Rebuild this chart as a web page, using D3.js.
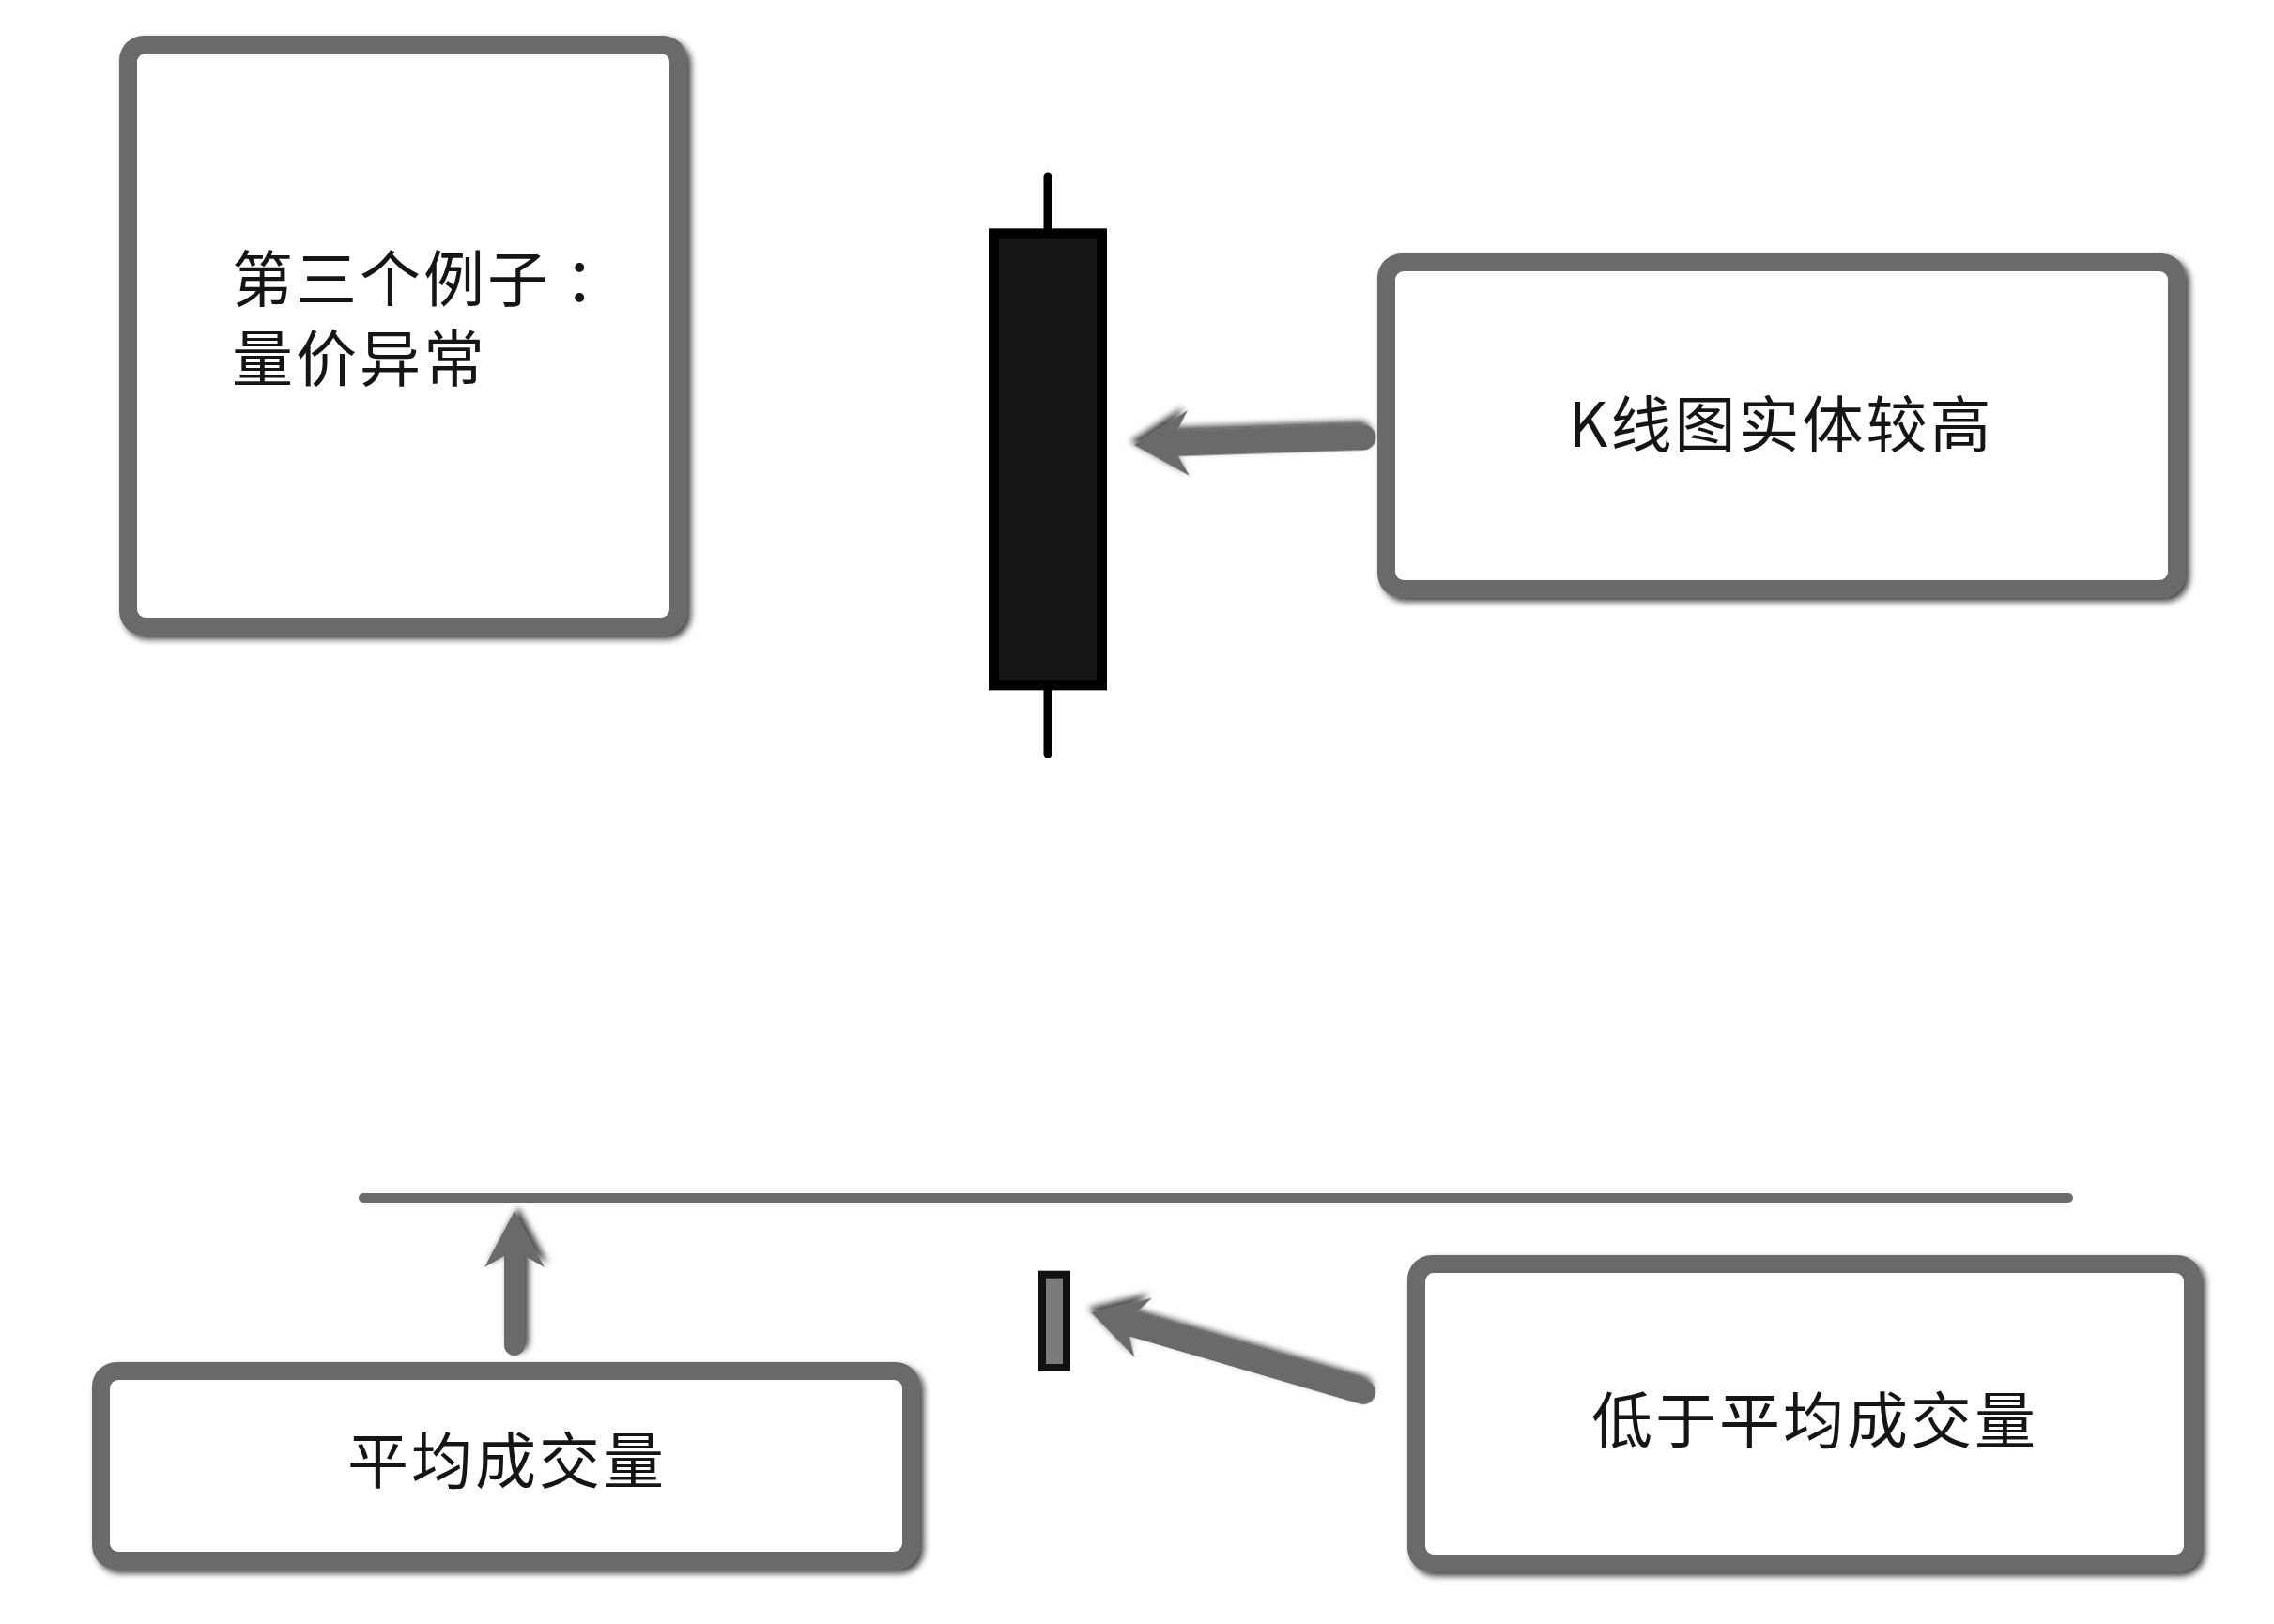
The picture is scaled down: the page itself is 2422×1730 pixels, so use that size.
<!DOCTYPE html>
<html>
<head>
<meta charset="utf-8">
<script src="https://cdn.jsdelivr.net/npm/d3@7"></script>
<style>
  html, body { margin: 0; padding: 0; background: #fff; }
  svg { display: block; }
</style>
</head>
<body>
<div id="chart"></div>
<script>
// 数据
const labels = ["第三个例子：\n量价异常", "K线图实体较高", "平均成交量", "低于平均成交量"];
const candle = { open: 91, high: 100, low: 0, close: 11 };
const volumes = [58];
const avgVolume = 100;

// 版面 (像素)
const W = 2422, H = 1730;
const boxes = [
  { x0: 127, y0: 38, x1: 732, y1: 677, align: "start", tx: 247, ty: [298, 383] },
  { x0: 1467, y0: 270, x1: 2328, y1: 637, align: "middle", tx: 1897, ty: [453] },
  { x0: 98, y0: 1451, x1: 980, y1: 1672, align: "middle", tx: 540, ty: [1557] },
  { x0: 1499, y0: 1337, x1: 2345, y1: 1675, align: "middle", tx: 1933, ty: [1514] }
];
const arrows = [
  { from: [1452, 466], to: [1208, 474], w: 27, hw: 70, hl: 58 },
  { from: [548, 1433], to: [548, 1290], w: 22, hw: 64, hl: 60 },
  { from: [1452, 1483], to: [1162, 1398], w: 26, hw: 66, hl: 58 }
];
const gray = "#6a6a6a";

const svg = d3.select("#chart").append("svg")
  .attr("width", W).attr("height", H);

const defs = svg.append("defs");
defs.append("filter").attr("id", "shadow")
  .attr("x", "-10%").attr("y", "-10%").attr("width", "130%").attr("height", "130%")
  .append("feDropShadow")
  .attr("dx", 4).attr("dy", 4).attr("stdDeviation", 3.5)
  .attr("flood-color", "#000").attr("flood-opacity", 0.75);

// 方框
const bw = 19;
const box = svg.append("g").selectAll("g")
  .data(boxes).enter().append("g");

box.append("rect")
  .attr("x", d => d.x0).attr("y", d => d.y0)
  .attr("width", d => d.x1 - d.x0).attr("height", d => d.y1 - d.y0)
  .attr("rx", 26).attr("ry", 26)
  .attr("fill", gray)
  .attr("filter", "url(#shadow)");

box.append("rect")
  .attr("x", d => d.x0 + bw).attr("y", d => d.y0 + bw)
  .attr("width", d => d.x1 - d.x0 - 2 * bw).attr("height", d => d.y1 - d.y0 - 2 * bw)
  .attr("rx", 9).attr("ry", 9)
  .attr("fill", "#fff");

box.each(function (d, i) {
  const lines = labels[i].split("\n");
  const t = d3.select(this).append("text")
    .attr("text-anchor", d.align)
    .attr("font-family", "'Noto Sans CJK SC', 'Noto Sans', sans-serif")
    .attr("font-weight", 400)
    .attr("font-size", 65)
    .attr("letter-spacing", 3)
    .attr("fill", "#151515");
  lines.forEach((s, k) => {
    const ts = t.append("tspan")
      .attr("x", d.tx)
      .attr("y", d.ty[k])
      .attr("dy", "0.35em");
    if (s.endsWith("：")) {
      ts.text(s.slice(0, -1));
      t.append("tspan").attr("dx", 14).text("：");
    } else {
      ts.text(s);
    }
  });
});

// K线
const yPrice = d3.scaleLinear().domain([0, 100]).range([803, 188]);
const candleX = 1116, bodyW = 126;
const kg = svg.append("g");
kg.append("line")
  .attr("x1", candleX).attr("x2", candleX)
  .attr("y1", yPrice(candle.high)).attr("y2", yPrice(candle.low))
  .attr("stroke", "#000").attr("stroke-width", 9).attr("stroke-linecap", "round");
kg.append("rect")
  .attr("x", candleX - bodyW / 2 + 5.5)
  .attr("y", yPrice(Math.max(candle.open, candle.close)) + 5.5)
  .attr("width", bodyW - 11)
  .attr("height", Math.abs(yPrice(candle.open) - yPrice(candle.close)) - 11)
  .attr("fill", "#161616").attr("stroke", "#000").attr("stroke-width", 11);

// 成交量
const yVol = d3.scaleLinear().domain([0, avgVolume]).range([1461, 1276]);
svg.append("line")
  .attr("x1", 387).attr("x2", 2203)
  .attr("y1", yVol(avgVolume)).attr("y2", yVol(avgVolume))
  .attr("stroke", gray).attr("stroke-width", 10).attr("stroke-linecap", "round");

const volX = 1123, volW = 34;
svg.append("g").selectAll("rect")
  .data(volumes).enter().append("rect")
  .attr("x", volX - volW / 2 + 4)
  .attr("y", d => yVol(d) + 4)
  .attr("width", volW - 8)
  .attr("height", d => yVol(0) - yVol(d) - 8)
  .attr("fill", "#7a7a7a").attr("stroke", "#111").attr("stroke-width", 8);

// 箭头
function arrowPath(a) {
  const dx = a.to[0] - a.from[0], dy = a.to[1] - a.from[1];
  const L = Math.hypot(dx, dy);
  const p = d3.path();
  const w = a.w / 2, hw = a.hw / 2;
  p.moveTo(0, -w);
  p.lineTo(L - a.hl * 0.8, -w);
  p.lineTo(L - a.hl, -hw);
  p.lineTo(L, 0);
  p.lineTo(L - a.hl, hw);
  p.lineTo(L - a.hl * 0.8, w);
  p.lineTo(0, w);
  p.arc(0, 0, w, Math.PI / 2, Math.PI * 1.5, false);
  p.closePath();
  return p.toString();
}

svg.append("g").selectAll("path")
  .data(arrows).enter().append("path")
  .attr("d", arrowPath)
  .attr("transform", d => {
    const ang = Math.atan2(d.to[1] - d.from[1], d.to[0] - d.from[0]) * 180 / Math.PI;
    return `translate(${d.from[0]},${d.from[1]}) rotate(${ang})`;
  })
  .attr("fill", gray)
  .attr("filter", "url(#shadow)");
</script>
</body>
</html>
